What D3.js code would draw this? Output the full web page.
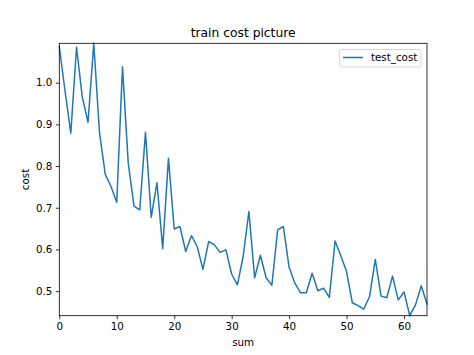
<!DOCTYPE html>
<html><head><meta charset="utf-8">
<script src="https://cdn.jsdelivr.net/npm/d3@7"></script>
<style>body{margin:0;background:#fff}svg{display:block;font-family:"DejaVu Sans",sans-serif}</style>
</head><body>
<script>
const steps = d3.range(0, 65);
const testCost = [1.086,0.980,0.879,1.085,0.966,0.905,1.0945,0.880,0.780,0.751,
  0.713,1.038,0.807,0.704,0.695,0.881,0.677,0.760,0.602,0.819,
  0.649,0.655,0.595,0.633,0.607,0.552,0.619,0.611,0.593,0.599,
  0.541,0.515,0.583,0.691,0.532,0.586,0.532,0.514,0.647,0.655,
  0.557,0.519,0.496,0.496,0.543,0.501,0.507,0.485,0.620,0.585,
  0.547,0.472,0.465,0.457,0.487,0.576,0.488,0.484,0.536,0.479,
  0.498,0.441,0.467,0.513,0.469];
const xTicks = [0,10,20,30,40,50,60];
const yTicks = [0.5,0.6,0.7,0.8,0.9,1.0];
const title = "train cost picture", xLabel = "sum", yLabel = "cost", seriesName = "test_cost";

const W = 474, H = 355;
const m = {left: 59.3, right: 427, top: 43.3, bottom: 315.7};
const svg = d3.select("body").append("svg").attr("width", W).attr("height", H);
const x = d3.scaleLinear().domain([0, 64]).range([m.left, m.right]);
const y = d3.scaleLinear().domain(d3.extent(testCost)).range([m.bottom, m.top]);

const line = d3.line().x((d,i)=>x(steps[i])).y(d=>y(d));
svg.append("path").datum(testCost).attr("d", line)
  .attr("fill","none").attr("stroke","#1f77b4").attr("stroke-width",1.5)
  .attr("stroke-linejoin","round").attr("stroke-linecap","square");

const xa = svg.append("g").attr("transform",`translate(0,${m.bottom})`)
  .call(d3.axisBottom(x).tickValues(xTicks).tickFormat(d3.format("d")).tickSize(3.5).tickPadding(3.5));
const ya = svg.append("g").attr("transform",`translate(${m.left},0)`)
  .call(d3.axisLeft(y).tickValues(yTicks).tickFormat(d3.format(".1f")).tickSize(3.5).tickPadding(3.5));
[xa, ya].forEach(a=>{
  a.select(".domain").remove();
  a.selectAll("line").attr("stroke","#000").attr("stroke-width",0.8);
  a.selectAll("text").attr("font-size","10.3px").attr("fill","#000").attr("font-family","DejaVu Sans");
});
svg.append("rect").attr("x",m.left).attr("y",m.top).attr("width",m.right-m.left).attr("height",m.bottom-m.top)
  .attr("fill","none").attr("stroke","#000").attr("stroke-width",0.8);

svg.append("text").attr("x",(m.left+m.right)/2).attr("y",36.5).attr("text-anchor","middle")
  .attr("font-size","12.3px").attr("fill","#000").text(title);
svg.append("text").attr("x",(m.left+m.right)/2).attr("y",346).attr("text-anchor","middle")
  .attr("font-size","10.3px").attr("fill","#000").text(xLabel);
svg.append("text").attr("transform",`translate(29,${(m.top+m.bottom)/2}) rotate(-90)`).attr("text-anchor","middle")
  .attr("font-size","10.3px").attr("fill","#000").text(yLabel);

const lg = svg.append("g");
lg.append("rect").attr("x",339.5).attr("y",49.5).attr("width",81.5).attr("height",17.5).attr("rx",2)
  .attr("fill","#fff").attr("fill-opacity",0.8).attr("stroke","#ccc").attr("stroke-width",0.8);
lg.append("line").attr("x1",343).attr("x2",363).attr("y1",57.5).attr("y2",57.5)
  .attr("stroke","#1f77b4").attr("stroke-width",1.5);
lg.append("text").attr("x",371).attr("y",61.3).attr("font-size","10.3px").attr("fill","#000").text(seriesName);
</script>
</body></html>
